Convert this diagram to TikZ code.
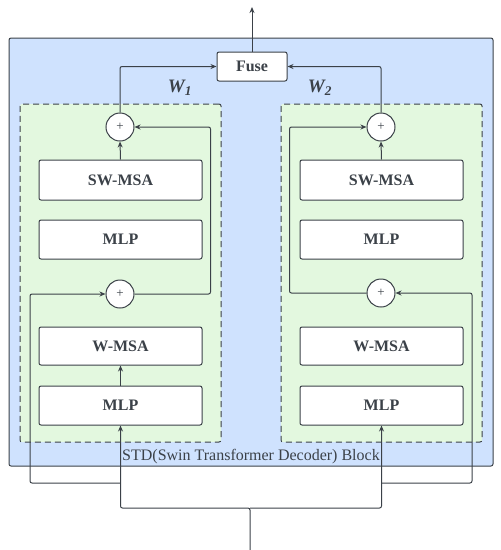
\documentclass[tikz,border=0pt]{standalone}
\usepackage{fontspec}
\setmainfont{Liberation Serif}
\usetikzlibrary{arrows.meta}
\definecolor{lineC}{HTML}{3B4148}
\definecolor{blockC}{HTML}{CFE2FE}
\definecolor{winC}{HTML}{E3F8DF}
\begin{document}
\begin{tikzpicture}[x=1pt,y=-1pt,
    line width=1pt, draw=lineC, text=lineC,
    arr/.style={-{Stealth[length=6pt,width=5pt]}, rounded corners=2pt},
    layer/.style={draw, fill=white, rounded corners=2pt, minimum width=163pt, minimum height=39pt,
        inner sep=0pt, font=\fontsize{16}{19}\selectfont\bfseries},
    plus/.style={draw, circle, fill=white, minimum size=28pt, inner sep=0pt, font=\fontsize{13}{15}\selectfont},
    win/.style={draw, dashed, dash pattern=on 6pt off 4pt, fill=winC, rounded corners=2pt,
        minimum width=201pt, minimum height=338pt}]
        \useasboundingbox (0,0) rectangle (501,550);
        % outer block and the two windows
        \node (blk) [draw, fill=blockC, rounded corners=2pt, minimum width=484pt, minimum height=428pt] at (251,252) {};
        \node (win1) [win] at (120.5,273) {};
        \node (win2) [win] at (381.5,273) {};
        \node (std) at (251,457) {\fontsize{16}{19}\selectfont STD(Swin Transformer Decoder) Block};
        \node (fuse) [layer, minimum width=70pt, minimum height=29pt] at (252,66.5) {Fuse};
        \node (w1) at (180,88) {\fontsize{19}{22}\selectfont\bfseries\itshape W\textsubscript{1}};
        \node (w2) at (320,88) {\fontsize{19}{22}\selectfont\bfseries\itshape W\textsubscript{2}};
        % left window
        \node (plusA1) [plus] at (120,127) {+};
        \node (swmsa1) [layer, minimum height=40pt] at (120.5,180) {SW-MSA};
        \node (mlpA1) [layer] at (120.5,239.5) {MLP};
        \node (plusB1) [plus] at (120,294) {+};
        \node (wmsa1) [layer, minimum height=38pt] at (120.5,346) {W-MSA};
        \node (mlpB1) [layer] at (120.5,405.5) {MLP};
        % right window
        \node (plusA2) [plus] at (381,127) {+};
        \node (swmsa2) [layer, minimum height=40pt] at (381.5,180) {SW-MSA};
        \node (mlpA2) [layer] at (381.5,239.5) {MLP};
        \node (plusB2) [plus] at (381,293) {+};
        \node (wmsa2) [layer, minimum height=38pt] at (381.5,346) {W-MSA};
        \node (mlpB2) [layer] at (381.5,405.5) {MLP};
        % input and output points
        \coordinate (in) at (250,550);
        \coordinate (split) at (250,508);
        \coordinate (out) at (252,7);
        \coordinate (tap1) at (120,483);
        \coordinate (tap2) at (381,483);
        % connectors
        \draw [arr] (fuse.north) -- (out);
        \draw [arr] (plusA1.north) |- (fuse.west);
        \draw [arr] (plusA2.north) |- (fuse.east);
        \draw [arr] (swmsa1.north) -- (plusA1.south);
        \draw [arr] (swmsa2.north) -- (plusA2.south);
        \draw [arr] (mlpB1.north) -- (wmsa1.south);
        \draw [arr] (plusB1.east) -- ++(76,0) |- (plusA1.east);
        \draw [arr] (plusB2.west) -- ++(-77,0) |- (plusA2.west);
        \draw [arr] (in) -- (split) -| (mlpB1.south);
        \draw [arr] (split) -| (mlpB2.south);
        \draw [arr] (tap1) -| (30,294) -- (plusB1.west);
        \draw [arr] (tap2) -| (472,293) -- (plusB2.east);
    \end{tikzpicture}
\end{document}
